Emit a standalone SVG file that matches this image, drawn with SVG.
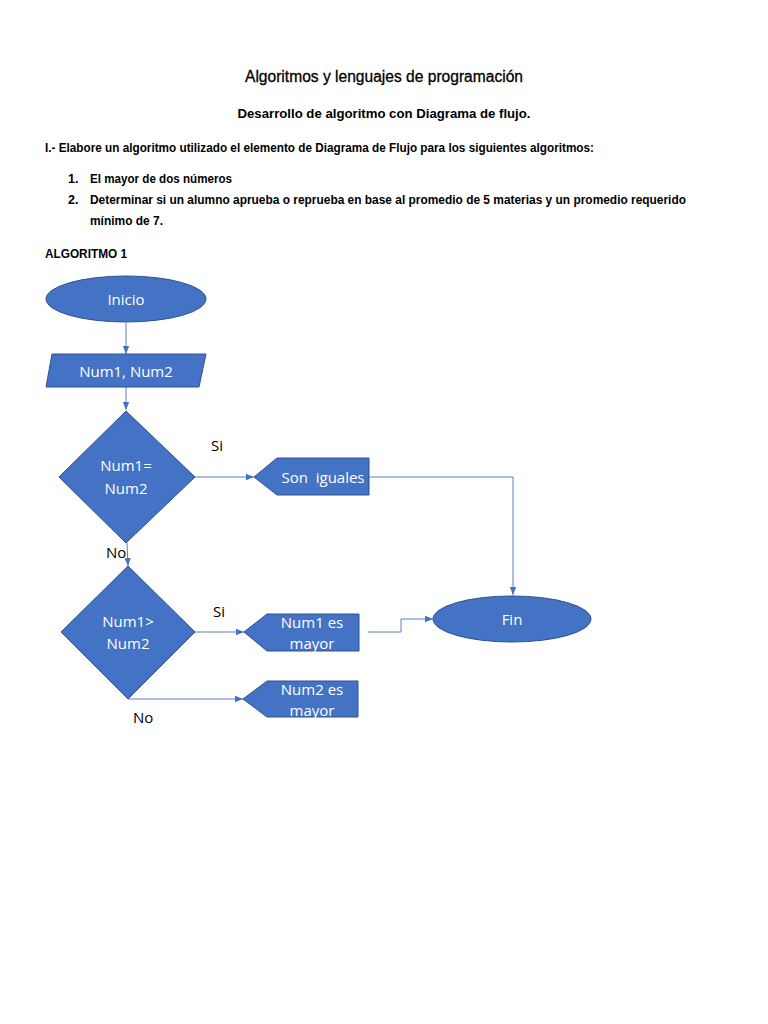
<svg xmlns="http://www.w3.org/2000/svg" width="768" height="1024" viewBox="0 0 768 1024">
<defs>
<style>
.hd{font-family:"Liberation Sans",Arial,sans-serif;fill:#000;font-weight:bold;font-size:12.5px}
.nd{fill:#4472C4;stroke:#2F528F;stroke-width:1}
.nt{font-family:"Open Sans","Liberation Sans",sans-serif;fill:#fff;font-size:15px;text-anchor:middle}
.lb{font-family:"Open Sans","Liberation Sans",sans-serif;fill:#000;font-size:15px}
.cn{fill:none;stroke:#5B7FC4;stroke-width:1}
</style>
<marker id="ar" viewBox="0 0 10 10" refX="10" refY="5" markerWidth="8" markerHeight="8" markerUnits="userSpaceOnUse" orient="auto">
<path d="M0,1 L10,5 L0,9 z" fill="#4472C4"/>
</marker>
</defs>
<rect width="768" height="1024" fill="#fff"/>
<g id="header">
<text x="384" y="82" font-family="Liberation Sans, Arial, sans-serif" font-size="16" text-anchor="middle" textLength="278" lengthAdjust="spacingAndGlyphs" fill="#000" stroke="#000" stroke-width="0.3">Algoritmos y lenguajes de programación</text>
<text class="hd" x="384" y="118" text-anchor="middle" textLength="293" lengthAdjust="spacingAndGlyphs">Desarrollo de algoritmo con Diagrama de flujo.</text>
<text class="hd" x="45" y="152" textLength="549" lengthAdjust="spacingAndGlyphs">I.- Elabore un algoritmo utilizado el elemento de Diagrama de Flujo para los siguientes algoritmos:</text>
<text class="hd" x="68" y="183">1.</text>
<text class="hd" x="90" y="183" textLength="142" lengthAdjust="spacingAndGlyphs">El mayor de dos números</text>
<text class="hd" x="68" y="204">2.</text>
<text class="hd" x="90" y="204" textLength="596" lengthAdjust="spacingAndGlyphs">Determinar si un alumno aprueba o reprueba en base al promedio de 5 materias y un promedio requerido</text>
<text class="hd" x="90" y="225" textLength="73" lengthAdjust="spacingAndGlyphs">mínimo de 7.</text>
<text class="hd" x="45" y="258" textLength="82" lengthAdjust="spacingAndGlyphs">ALGORITMO 1</text>
</g>
<g id="connectors">
<line class="cn" x1="126" y1="323" x2="126" y2="354" marker-end="url(#ar)"/>
<line class="cn" x1="126" y1="387" x2="126" y2="410" marker-end="url(#ar)"/>
<line class="cn" x1="195" y1="477" x2="254" y2="477" marker-end="url(#ar)"/>
<polyline class="cn" points="369,477 513,477 513,595" marker-end="url(#ar)"/>
<line class="cn" x1="127" y1="543" x2="128" y2="566" marker-end="url(#ar)"/>
<line class="cn" x1="195" y1="632" x2="244" y2="632" marker-end="url(#ar)"/>
<polyline class="cn" points="368,632 401,632 401,619 433,619" marker-end="url(#ar)"/>
<line class="cn" x1="128" y1="699" x2="243" y2="699" marker-end="url(#ar)"/>
</g>
<g id="inicio">
<ellipse class="nd" cx="126" cy="299" rx="80" ry="23"/>
<text class="nt" x="126" y="305" font-size="16">Inicio</text>
</g>
<g id="entrada">
<polygon class="nd" points="52,354 206,354 199,387 46,387"/>
<text class="nt" x="126" y="377">Num1, Num2</text>
</g>
<g id="decision1">
<polygon class="nd" points="126,411 195,477 126,543 59,477"/>
<text class="nt" x="126" y="471">Num1=</text>
<text class="nt" x="126" y="494">Num2</text>
</g>
<g id="iguales">
<polygon class="nd" points="254,477 277,458 369,458 369,495 277,495"/>
<text class="nt" x="323" y="483" xml:space="preserve">Son  iguales</text>
</g>
<g id="fin">
<ellipse class="nd" cx="512" cy="619" rx="79" ry="23"/>
<text class="nt" x="512" y="625">Fin</text>
</g>
<g id="decision2">
<polygon class="nd" points="128,566 195,632 128,699 61,632"/>
<text class="nt" x="128" y="627">Num1&gt;</text>
<text class="nt" x="128" y="649">Num2</text>
</g>
<g id="num1mayor">
<polygon class="nd" points="244,632 267,614 359,614 359,651 267,651"/>
<text class="nt" x="312" y="628">Num1 es</text>
<text class="nt" x="312" y="649">mayor</text>
</g>
<g id="num2mayor">
<polygon class="nd" points="243,699 267,681 358,681 358,717 267,717"/>
<text class="nt" x="312" y="695">Num2 es</text>
<text class="nt" x="312" y="716">mayor</text>
</g>
<g id="labels">
<text class="lb" x="211" y="451">Si</text>
<text class="lb" x="106" y="558">No</text>
<text class="lb" x="213" y="617">Si</text>
<text class="lb" x="133" y="723">No</text>
</g>
</svg>
